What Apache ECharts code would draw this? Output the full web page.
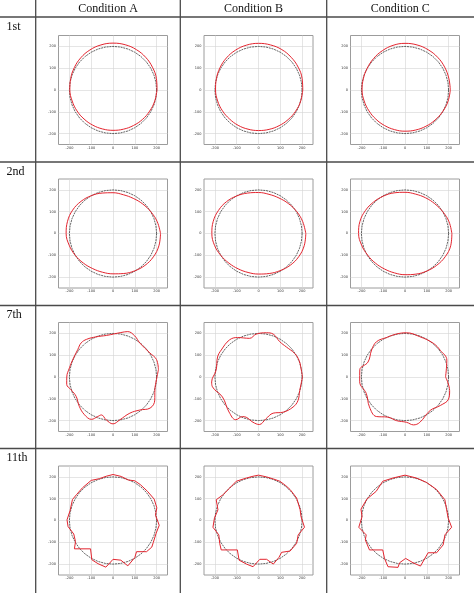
<!DOCTYPE html>
<html><head><meta charset="utf-8">
<script src="https://cdn.jsdelivr.net/npm/echarts@6/dist/echarts.min.js"></script>
<style>html,body{margin:0;padding:0;background:#fff}#c{width:474px;height:593px}</style>
</head><body><div id="c"></div>
<script>
// ---- categories / labels ----
const COLUMNS = ['Condition A', 'Condition B', 'Condition C'];
const ROWS = ['1st', '2nd', '7th', '11th'];
const TICKS = [-200, -100, 0, 100, 200];

// ---- reference (nominal) circle ----
const REF_R = 200;
const ANG_REF = [0,10,20,30,40,50,60,70,80,90,100,110,120,130,140,150,160,170,180,190,200,210,220,230,240,250,260,270,280,290,300,310,320,330,340,350,360];

// ---- rows 1-2: measured radius every 15 degrees ----
const ANG15 = [0,15,30,45,60,75,90,105,120,135,150,165,180,195,210,225,240,255,270,285,300,315,330,345];
const r1A = [202,206,209,212,214,215,215,214,212,209,205,201,198,194,191,188,186,185,185,186,188,191,194,198];
const r1B = [203,207,210,212,214,214,214,213,211,208,204,200,197,194,191,188,187,186,186,187,189,192,196,200];
const r1C = [208,208,210,212,213,214,214,212,208,204,200,198,197,194,191,189,188,188,189,190,192,195,199,204];
const r2A = [218,210,200,192,186,184,187,192,200,208,214,216,215,208,200,192,186,184,185,190,198,207,214,218];
const r2B = [217,210,202,194,188,186,188,192,199,207,212,215,214,209,200,192,187,185,186,190,197,206,213,217];
const r2C = [215,209,200,193,189,187,189,193,198,204,210,214,213,206,198,192,188,187,189,193,199,206,213,217];

// ---- row 3 (7th): angle / radius readings ----
const a3A = [9,22,33,52,62,72,80,99,113,125,133,142,157,168,180,189,197,208,221,233,243,249,253,261,270,279,295,309,320,331,343,357];
const r3A = [211,215,202,199,213,219,207,193,200,211,214,205,201,204,212,215,201,191,205,217,218,194,182,199,215,199,183,195,222,219,201,200];
const a3B = [0,9,22,33,47,59,71,80,93,103,118,128,144,154,171,186,192,209,230,242,248,253,263,271,280,292,305,319,329,342];
const r3B = [202,199,201,198,188,189,208,206,197,182,205,216,211,209,197,216,216,189,210,222,196,193,209,218,195,179,197,210,211,199];
const a3C = [0,22,37,50,70,88,101,115,129,141,158,171,186,203,220,234,247,259,272,280,288,307,321,333,343];
const r3C = [186,207,203,202,197,203,201,200,208,197,183,210,209,193,213,224,200,204,208,223,219,192,208,224,214];

// ---- row 4 (11th): x / y readings ----
const x4A = [0,38,69,100,125,158,189,201,195,212,198,185,178,154,108,100,68,36,0,-15,-33,-69,-97,-103,-177,-172,-180,-206,-211,-197,-186,-168,-140,-100,-62,-31];
const y4A = [211,202,186,182,165,134,98,58,25,-22,-58,-100,-122,-143,-143,-170,-208,-182,-178,-195,-214,-198,-180,-130,-130,-97,-62,-28,3,45,96,118,150,184,192,203];
const x4B = [0,37,70,98,125,145,175,191,195,211,182,175,145,106,94,68,37,6,-25,-55,-89,-97,-171,-178,-182,-209,-202,-186,-194,-163,-132,-102,-55,-25];
const y4B = [208,200,190,180,160,142,103,49,18,-31,-66,-105,-140,-146,-169,-200,-178,-178,-212,-200,-182,-135,-135,-105,-66,-31,11,49,95,118,149,180,195,203];
const x4C = [0,52,98,145,183,191,198,214,183,175,145,106,71,37,3,-25,-32,-78,-94,-102,-163,-182,-178,-212,-197,-202,-175,-132,-102,-55];
const y4C = [208,195,175,142,95,49,11,-31,-66,-112,-148,-148,-209,-194,-174,-194,-215,-212,-174,-135,-135,-89,-66,-31,18,52,98,134,180,195];

// ---- build ----
function polarPairs(angles, radii) {
  const d = angles.map((a, i) => [radii[i], a]);
  d.push([radii[0], angles[0] + 360]);
  return d;
}
function xyPairs(xs, ys) {
  const d = xs.map((x, i) => [x, ys[i]]);
  d.push([xs[0], ys[0]]);
  return d;
}
const CELLS = [
  [{p: polarPairs(ANG15, r1A)}, {p: polarPairs(ANG15, r1B)}, {p: polarPairs(ANG15, r1C)}],
  [{p: polarPairs(ANG15, r2A)}, {p: polarPairs(ANG15, r2B)}, {p: polarPairs(ANG15, r2C)}],
  [{p: polarPairs(a3A, r3A)}, {p: polarPairs(a3B, r3B)}, {p: polarPairs(a3C, r3C)}],
  [{c: xyPairs(x4A, y4A)}, {c: xyPairs(x4B, y4B)}, {c: xyPairs(x4C, y4C)}]
];

const COL_X = [58.5, 204, 350.5];
const ROW_Y = [35.5, 179, 322.5, 466];
const BOX = 109;
const RED = '#e3252f';

const grids = [], xAxes = [], yAxes = [], polars = [], angAxes = [], radAxes = [], series = [];
let k = 0;
for (let r = 0; r < 4; r++) {
  for (let c = 0; c < 3; c++) {
    const left = COL_X[c], top = ROW_Y[r];
    grids.push({left: left, top: top, width: BOX, height: BOX, show: true,
      borderColor: '#9c9c9c', borderWidth: 1, backgroundColor: '#fff'});
    const axisCommon = {
      type: 'value', gridIndex: k, min: -250, max: 250,
      axisLine: {show: false},
      axisTick: {show: false, customValues: TICKS},
      splitLine: {show: true, lineStyle: {color: '#d3d3d3', width: 0.6}}
    };
    xAxes.push(Object.assign({}, axisCommon, {
      axisLabel: {customValues: TICKS, fontSize: 3.5, margin: 1.5, color: '#333', fontFamily: 'DejaVu Sans'}
    }));
    yAxes.push(Object.assign({}, axisCommon, {
      axisLabel: {customValues: TICKS, fontSize: 3.5, margin: 2.5, color: '#333', fontFamily: 'DejaVu Sans'}
    }));
    polars.push({center: [left + BOX / 2, top + BOX / 2], radius: BOX / 2});
    angAxes.push({polarIndex: k, type: 'value', min: 0, max: 360, startAngle: 0, clockwise: false, show: false});
    radAxes.push({polarIndex: k, type: 'value', min: 0, max: 250, show: false});

    series.push({
      type: 'line', coordinateSystem: 'polar', polarIndex: k,
      data: ANG_REF.map(a => [REF_R, a]),
      showSymbol: false, silent: true, animation: false, clip: false,
      lineStyle: {color: '#222', width: 0.7, type: [2, 0.8]}
    });
    const cell = CELLS[r][c];
    if (cell.p) {
      series.push({
        type: 'line', coordinateSystem: 'polar', polarIndex: k,
        data: cell.p, smooth: 0.4, showSymbol: false, silent: true, animation: false, clip: false,
        lineStyle: {color: RED, width: 1}
      });
    } else {
      series.push({
        type: 'line', xAxisIndex: k, yAxisIndex: k,
        data: cell.c, showSymbol: false, silent: true, animation: false, clip: false,
        lineStyle: {color: RED, width: 1}
      });
    }
    k++;
  }
}

// ---- table frame and labels ----
const graphic = [];
const LSTYLE = {stroke: '#4a4a4a', lineWidth: 1.3};
[17, 162, 305.5, 448.5].forEach(y => graphic.push({type: 'line', silent: true, z: 100,
  shape: {x1: 0, y1: y, x2: 474, y2: y}, style: LSTYLE}));
[35.7, 180.3, 326.7].forEach(x => graphic.push({type: 'line', silent: true, z: 100,
  shape: {x1: x, y1: 0, x2: x, y2: 593}, style: LSTYLE}));
const COL_CX = [108, 253.5, 400.3];
COLUMNS.forEach((t, i) => graphic.push({type: 'text', silent: true, z: 100, x: COL_CX[i], y: 8.8,
  style: {text: t, font: '12px "Liberation Serif"', fill: '#111',
    align: 'center', verticalAlign: 'middle', textAlign: 'center', textVerticalAlign: 'middle'}}));
const ROW_TOP = [17, 162, 305.5, 448.5];
ROWS.forEach((t, i) => graphic.push({type: 'text', silent: true, z: 100, x: 6.5, y: ROW_TOP[i] + 9.8,
  style: {text: t, font: '12px "Liberation Serif"', fill: '#111',
    align: 'left', verticalAlign: 'middle', textAlign: 'left', textVerticalAlign: 'middle'}}));

const chart = echarts.init(document.getElementById('c'), null, {renderer: 'canvas'});
chart.setOption({
  animation: false,
  backgroundColor: '#fff',
  grid: grids, xAxis: xAxes, yAxis: yAxes,
  polar: polars, angleAxis: angAxes, radiusAxis: radAxes,
  series: series,
  graphic: graphic
});
</script>
</body></html>
